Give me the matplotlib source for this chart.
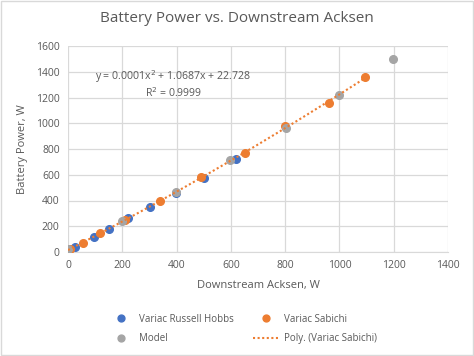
import numpy as np
import matplotlib
matplotlib.use("Agg")
import matplotlib.pyplot as plt

# Data
rh_x = [26, 97, 152, 220, 302, 399, 502, 618]
rh_y = [41, 119, 178, 262, 347, 456, 572, 720]
sab_x = [7, 54, 118, 210, 339, 490, 652, 800, 963, 1095]
sab_y = [23, 72, 145, 248, 396, 582, 766, 975, 1159, 1359]
mod_x = [0, 200, 399, 598, 802, 998, 1199]
mod_y = [20, 241, 468, 714, 965, 1219, 1496]

title = "Battery Power vs. Downstream Acksen"
xlabel = "Downstream Acksen, W"
ylabel = "Battery Power, W"
eq_text = "y = 0.0001x$^2$ + 1.0687x + 22.728\nR$^2$ = 0.9999"

c_blue = "#4472C4"
c_orange = "#ED7D31"
c_gray = "#A5A5A5"
c_text = "#595959"
c_grid = "#D9D9D9"

plt.rcParams['font.family'] = ['Open Sans', 'DejaVu Sans']

fig = plt.figure(figsize=(4.74, 3.56), dpi=100)
ax = fig.add_axes([68/474, 1-252/356, (448-68)/474, (252-46)/356])

ms = 5.5
ax.plot(rh_x, rh_y, 'o', color=c_blue, ms=ms, zorder=3, label="Variac Russell Hobbs")
ax.plot(sab_x, sab_y, 'o', color=c_orange, ms=ms, zorder=4, label="Variac Sabichi")
ax.plot(mod_x, mod_y, 'o', color=c_gray, ms=ms, zorder=5, label="Model")

coef = np.polyfit(sab_x, sab_y, 2)
xs = np.linspace(0, max(sab_x), 200)
ax.plot(xs, np.polyval(coef, xs), linestyle=(0, (1, 1.2)), color=c_orange, lw=1.5, zorder=6,
        label="Poly. (Variac Sabichi)")

ax.set_xlim(0, 1400)
ax.set_ylim(0, 1600)
ax.set_xticks(np.arange(0, 1401, 200))
ax.set_yticks(np.arange(0, 1601, 200))
ax.grid(True, color=c_grid, lw=0.9)
ax.set_axisbelow(True)
for s in ax.spines.values():
    s.set_visible(False)
ax.spines['bottom'].set_visible(True)
ax.spines['bottom'].set_color(c_grid)
ax.tick_params(length=0, labelsize=7.5, labelcolor=c_text, pad=6)

ax.set_xlabel(xlabel, fontsize=8, color=c_text, labelpad=6)
ax.set_ylabel(ylabel, fontsize=8, color=c_text, labelpad=6)
fig.text(0.5, 1-18/356, title, ha='center', va='center', fontsize=11, color=c_text)

ax.text(0.277, 0.815, eq_text, transform=ax.transAxes, ha='center', va='center',
        fontsize=7.6, color=c_text, linespacing=1.2)

handles, labels = ax.get_legend_handles_labels()
order = [0, 2, 1, 3]
leg = fig.legend([handles[i] for i in order], [labels[i] for i in order],
                 loc='center', bbox_to_anchor=(0.512, 1-329/356), ncol=2, frameon=False,
                 fontsize=7, labelcolor=c_text, columnspacing=2.0, handlelength=2.6,
                 handletextpad=0.6, markerscale=0.9, labelspacing=0.9)

fig.patches.append(plt.Rectangle((0.002, 0.003), 0.996, 0.994, transform=fig.transFigure,
                                 fill=False, edgecolor="#D9D9D9", lw=1))

fig.savefig("out.png", dpi=100)
